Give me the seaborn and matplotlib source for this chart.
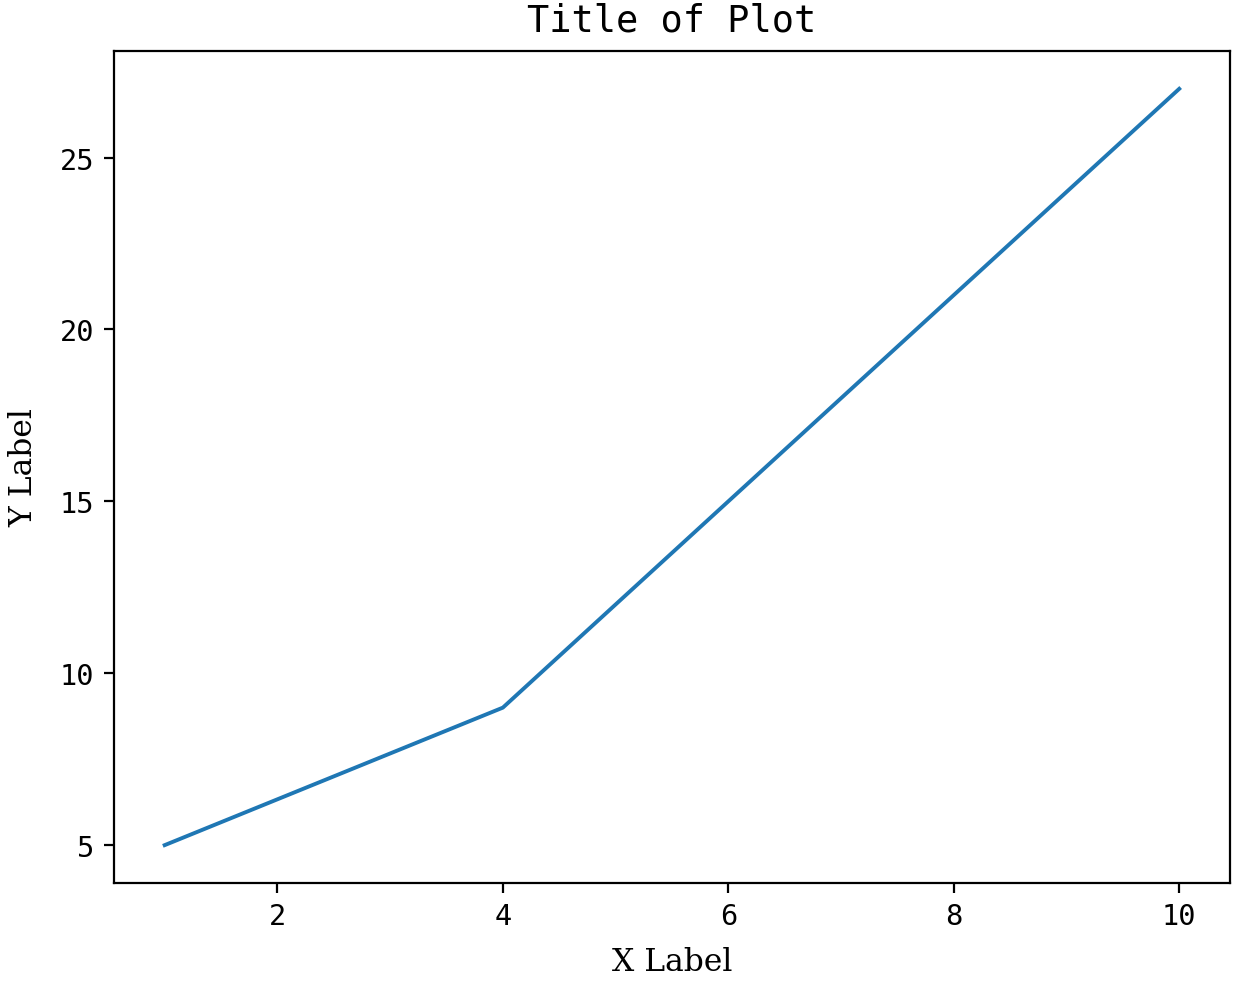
import matplotlib
matplotlib.use("Agg")
import matplotlib.pyplot as plt
import seaborn as sns
import pandas as pd

# values
x_vals = [1, 4, 10]
y_vals = [5, 9, 27]

df = pd.DataFrame({"x": x_vals, "y": y_vals})

fig, ax = plt.subplots(figsize=(6.22, 4.935), dpi=200)
fig.subplots_adjust(left=0.0916, right=0.9887, top=0.9473, bottom=0.1044)

sns.lineplot(data=df, x="x", y="y", ax=ax, color="#1f77b4", linewidth=1.4)

ax.set_title("Title of Plot", family="DejaVu Sans Mono", fontsize=13.3, pad=7.4)
ax.set_xlabel("X Label", family="DejaVu Serif", fontsize=11.3, labelpad=5.6)
ax.set_ylabel("Y Label", family="DejaVu Serif", fontsize=11.3, labelpad=7.6)
for lbl in ax.get_xticklabels() + ax.get_yticklabels():
    lbl.set_family("DejaVu Sans Mono")
    lbl.set_fontsize(10.3)

fig.savefig("out.png", dpi=200)
